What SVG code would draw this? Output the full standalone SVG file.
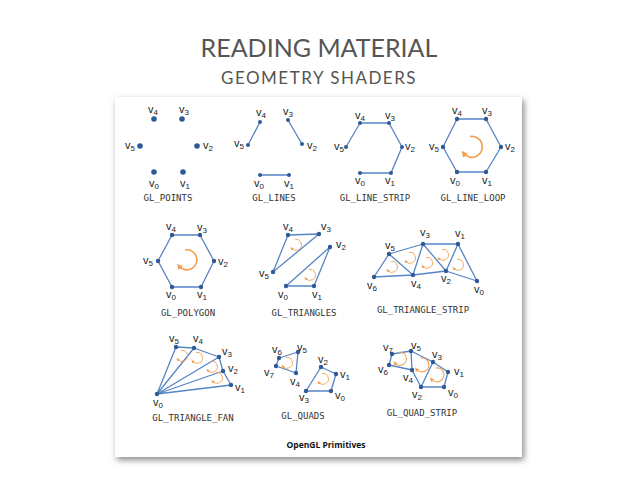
<svg xmlns="http://www.w3.org/2000/svg" xmlns:xlink="http://www.w3.org/1999/xlink" width="638" height="479" viewBox="0 0 638 479">
<style>
.e{stroke:#5585c5;stroke-width:1.3;fill:none;stroke-linejoin:round}
.p{fill:#2f5a96}
.l{font-family:"Liberation Sans",Arial,sans-serif;font-size:11px;fill:#222;text-anchor:middle}
.s{font-size:8px}
.c{font-family:"DejaVu Sans Mono",monospace;font-size:9px;fill:#333;text-anchor:middle}
.a{stroke:#f0a050;stroke-width:1.6;fill:none}
</style>
<defs>
<marker id="ah" markerWidth="6" markerHeight="6" refX="3" refY="3" orient="auto" markerUnits="userSpaceOnUse"><path d="M0,0 L6,3 L0,6 Z" fill="#f0a050"/></marker>
<g id="arc"><path class="a" d="M -2,-10 A 10 10 0 1 1 -8,6" marker-end="url(#ah)"/></g>
<filter id="sh" x="-10%" y="-10%" width="120%" height="125%"><feGaussianBlur stdDeviation="3"/></filter>
</defs>
<rect width="638" height="479" fill="#fff"/>
<text x="319" y="57" font-family="Lato,'Open Sans',sans-serif" font-size="25" fill="#555" text-anchor="middle">READING MATERIAL</text>
<text x="319" y="84" font-family="Lato,'Open Sans',sans-serif" font-size="17" fill="#555" text-anchor="middle" letter-spacing="1.5">GEOMETRY SHADERS</text>
<rect x="117" y="100" width="407" height="360" fill="#888" filter="url(#sh)"/>
<rect x="115" y="97" width="407" height="360" fill="#fff"/>

<g id="points">
<circle class="p" cx="154" cy="119" r="2.8"/><circle class="p" cx="182" cy="119" r="2.8"/><circle class="p" cx="140" cy="146" r="2.8"/><circle class="p" cx="197" cy="146" r="2.8"/><circle class="p" cx="154" cy="172" r="2.8"/><circle class="p" cx="183" cy="172" r="2.8"/>
<text class="l" x="153" y="113">v<tspan class="s" dy="2">4</tspan></text>
<text class="l" x="184" y="113">v<tspan class="s" dy="2">3</tspan></text>
<text class="l" x="130" y="149">v<tspan class="s" dy="2">5</tspan></text>
<text class="l" x="208" y="149">v<tspan class="s" dy="2">2</tspan></text>
<text class="l" x="154" y="187">v<tspan class="s" dy="2">0</tspan></text>
<text class="l" x="185" y="187">v<tspan class="s" dy="2">1</tspan></text>
<text class="c" x="168" y="201">GL_POINTS</text>
</g>

<g id="lines">
<path class="e" d="M260,122 L248,145 M288,120 L302,144 M260,175 L289,175"/>
<circle class="p" cx="260" cy="122" r="2"/><circle class="p" cx="248" cy="145" r="2"/><circle class="p" cx="288" cy="120" r="2"/><circle class="p" cx="302" cy="144" r="2"/><circle class="p" cx="260" cy="175" r="2"/><circle class="p" cx="289" cy="175" r="2"/>
<text class="l" x="261" y="116">v<tspan class="s" dy="2">4</tspan></text>
<text class="l" x="288" y="115">v<tspan class="s" dy="2">3</tspan></text>
<text class="l" x="239" y="147">v<tspan class="s" dy="2">5</tspan></text>
<text class="l" x="312" y="149">v<tspan class="s" dy="2">2</tspan></text>
<text class="l" x="259" y="187">v<tspan class="s" dy="2">0</tspan></text>
<text class="l" x="289" y="187">v<tspan class="s" dy="2">1</tspan></text>
<text class="c" x="274" y="201">GL_LINES</text>
</g>

<g id="linestrip">
<path class="e" d="M346,147 L360,123 L389,123 L402,147 L391,173 L360,173"/>
<circle class="p" cx="346" cy="147" r="2"/><circle class="p" cx="360" cy="123" r="2"/><circle class="p" cx="389" cy="123" r="2"/><circle class="p" cx="402" cy="147" r="2"/><circle class="p" cx="391" cy="173" r="2"/><circle class="p" cx="360" cy="173" r="2"/>
<text class="l" x="360" y="119">v<tspan class="s" dy="2">4</tspan></text>
<text class="l" x="390" y="119">v<tspan class="s" dy="2">3</tspan></text>
<text class="l" x="339" y="150">v<tspan class="s" dy="2">5</tspan></text>
<text class="l" x="410" y="150">v<tspan class="s" dy="2">2</tspan></text>
<text class="l" x="360" y="184">v<tspan class="s" dy="2">0</tspan></text>
<text class="l" x="390" y="184">v<tspan class="s" dy="2">1</tspan></text>
<text class="c" x="375" y="201">GL_LINE_STRIP</text>
</g>

<g id="lineloop">
<path class="e" d="M443,147 L457,119 L486,119 L501,147 L486,172 L457,172 Z"/>
<circle class="p" cx="443" cy="147" r="2.2"/><circle class="p" cx="457" cy="119" r="2.2"/><circle class="p" cx="486" cy="119" r="2.2"/><circle class="p" cx="501" cy="147" r="2.2"/><circle class="p" cx="486" cy="172" r="2.2"/><circle class="p" cx="457" cy="172" r="2.2"/>
<use href="#arc" transform="translate(472,147) scale(1.05)"/>
<text class="l" x="457" y="114">v<tspan class="s" dy="2">4</tspan></text>
<text class="l" x="487" y="114">v<tspan class="s" dy="2">3</tspan></text>
<text class="l" x="434" y="150">v<tspan class="s" dy="2">5</tspan></text>
<text class="l" x="510" y="150">v<tspan class="s" dy="2">2</tspan></text>
<text class="l" x="455" y="184">v<tspan class="s" dy="2">0</tspan></text>
<text class="l" x="487" y="184">v<tspan class="s" dy="2">1</tspan></text>
<text class="c" x="473" y="201">GL_LINE_LOOP</text>
</g>

<g id="polygon">
<path class="e" d="M158,261 L172,235 L200,235 L214,261 L201,287 L172,287 Z"/>
<circle class="p" cx="158" cy="261" r="2.2"/><circle class="p" cx="172" cy="235" r="2.2"/><circle class="p" cx="200" cy="235" r="2.2"/><circle class="p" cx="214" cy="261" r="2.2"/><circle class="p" cx="201" cy="287" r="2.2"/><circle class="p" cx="172" cy="287" r="2.2"/>
<use href="#arc" transform="translate(187,260) scale(1)"/>
<text class="l" x="171" y="230">v<tspan class="s" dy="2">4</tspan></text>
<text class="l" x="202" y="231">v<tspan class="s" dy="2">3</tspan></text>
<text class="l" x="148" y="264">v<tspan class="s" dy="2">5</tspan></text>
<text class="l" x="223" y="265">v<tspan class="s" dy="2">2</tspan></text>
<text class="l" x="171" y="298">v<tspan class="s" dy="2">0</tspan></text>
<text class="l" x="202" y="298">v<tspan class="s" dy="2">1</tspan></text>
<text class="c" x="188" y="316">GL_POLYGON</text>
</g>

<g id="triangles">
<path class="e" d="M288,235 L319,234 L273,272 Z M330,247 L314,286 L286,286 Z"/>
<circle class="p" cx="288" cy="235" r="2.2"/><circle class="p" cx="319" cy="234" r="2.2"/><circle class="p" cx="273" cy="272" r="2.2"/><circle class="p" cx="330" cy="247" r="2.2"/><circle class="p" cx="314" cy="286" r="2.2"/><circle class="p" cx="286" cy="286" r="2.2"/>
<use href="#arc" transform="translate(296,245) scale(0.55)"/>
<use href="#arc" transform="translate(310,275) scale(0.55)"/>
<text class="l" x="288" y="230">v<tspan class="s" dy="2">4</tspan></text>
<text class="l" x="326" y="230">v<tspan class="s" dy="2">3</tspan></text>
<text class="l" x="341" y="248">v<tspan class="s" dy="2">2</tspan></text>
<text class="l" x="264" y="277">v<tspan class="s" dy="2">5</tspan></text>
<text class="l" x="283" y="298">v<tspan class="s" dy="2">0</tspan></text>
<text class="l" x="317" y="298">v<tspan class="s" dy="2">1</tspan></text>
<text class="c" x="304" y="316">GL_TRIANGLES</text>
</g>

<g id="tristrip">
<path class="e" d="M374,277 L389,254 L423,244 L458,244 L477,281 L446,271 L413,275 Z M389,254 L413,275 L423,244 L446,271 L458,244"/>
<circle class="p" cx="374" cy="277" r="2.2"/><circle class="p" cx="389" cy="254" r="2.2"/><circle class="p" cx="413" cy="275" r="2.2"/><circle class="p" cx="423" cy="244" r="2.2"/><circle class="p" cx="446" cy="271" r="2.2"/><circle class="p" cx="458" cy="244" r="2.2"/><circle class="p" cx="477" cy="281" r="2.2"/>
<use href="#arc" transform="translate(392,267) scale(0.55)"/>
<use href="#arc" transform="translate(410,258) scale(0.55)"/>
<use href="#arc" transform="translate(427,263) scale(0.55)"/>
<use href="#arc" transform="translate(443,255) scale(0.55)"/>
<use href="#arc" transform="translate(458,265) scale(0.55)"/>
<text class="l" x="390" y="249">v<tspan class="s" dy="2">5</tspan></text>
<text class="l" x="425" y="236">v<tspan class="s" dy="2">3</tspan></text>
<text class="l" x="460" y="237">v<tspan class="s" dy="2">1</tspan></text>
<text class="l" x="372" y="289">v<tspan class="s" dy="2">6</tspan></text>
<text class="l" x="416" y="287">v<tspan class="s" dy="2">4</tspan></text>
<text class="l" x="446" y="282">v<tspan class="s" dy="2">2</tspan></text>
<text class="l" x="479" y="293">v<tspan class="s" dy="2">0</tspan></text>
<text class="c" x="423" y="313">GL_TRIANGLE_STRIP</text>
</g>

<g id="trifan">
<path class="e" d="M157,394 L231,385 L223,371 L219,357 L194,348 L176,347 Z M157,394 L223,371 M157,394 L219,357 M157,394 L194,348"/>
<circle class="p" cx="157" cy="394" r="2.2"/><circle class="p" cx="231" cy="385" r="2.2"/><circle class="p" cx="223" cy="371" r="2.2"/><circle class="p" cx="219" cy="357" r="2.2"/><circle class="p" cx="194" cy="348" r="2.2"/><circle class="p" cx="176" cy="347" r="2.2"/>
<use href="#arc" transform="translate(182,356) scale(0.55)"/>
<use href="#arc" transform="translate(197,358) scale(0.55)"/>
<use href="#arc" transform="translate(212,367) scale(0.55)"/>
<use href="#arc" transform="translate(217,378) scale(0.55)"/>
<text class="l" x="174" y="342">v<tspan class="s" dy="2">5</tspan></text>
<text class="l" x="198" y="342">v<tspan class="s" dy="2">4</tspan></text>
<text class="l" x="227" y="355">v<tspan class="s" dy="2">3</tspan></text>
<text class="l" x="233" y="372">v<tspan class="s" dy="2">2</tspan></text>
<text class="l" x="240" y="391">v<tspan class="s" dy="2">1</tspan></text>
<text class="l" x="158" y="406">v<tspan class="s" dy="2">0</tspan></text>
<text class="c" x="193" y="421">GL_TRIANGLE_FAN</text>
</g>

<g id="quads">
<path class="e" d="M279,358 L298,352 L296,373 L276,366 Z M321,367 L336,374 L331,391 L306,391 Z"/>
<circle class="p" cx="279" cy="358" r="2.2"/><circle class="p" cx="298" cy="352" r="2.2"/><circle class="p" cx="296" cy="373" r="2.2"/><circle class="p" cx="276" cy="366" r="2.2"/><circle class="p" cx="321" cy="367" r="2.2"/><circle class="p" cx="336" cy="374" r="2.2"/><circle class="p" cx="331" cy="391" r="2.2"/><circle class="p" cx="306" cy="391" r="2.2"/>
<use href="#arc" transform="translate(287,363) scale(0.55)"/>
<use href="#arc" transform="translate(323,379) scale(0.55)"/>
<text class="l" x="277" y="353">v<tspan class="s" dy="2">6</tspan></text>
<text class="l" x="302" y="351">v<tspan class="s" dy="2">5</tspan></text>
<text class="l" x="269" y="376">v<tspan class="s" dy="2">7</tspan></text>
<text class="l" x="295" y="385">v<tspan class="s" dy="2">4</tspan></text>
<text class="l" x="323" y="363">v<tspan class="s" dy="2">2</tspan></text>
<text class="l" x="345" y="378">v<tspan class="s" dy="2">1</tspan></text>
<text class="l" x="304" y="401">v<tspan class="s" dy="2">3</tspan></text>
<text class="l" x="340" y="399">v<tspan class="s" dy="2">0</tspan></text>
<text class="c" x="303" y="419">GL_QUADS</text>
</g>

<g id="quadstrip">
<path class="e" d="M392,354 L411,351 L433,362 L448,372 L444,387 L421,387 L412,370 L389,365 Z M411,351 L412,370 M433,362 L421,387"/>
<circle class="p" cx="392" cy="354" r="2.2"/><circle class="p" cx="411" cy="351" r="2.2"/><circle class="p" cx="433" cy="362" r="2.2"/><circle class="p" cx="448" cy="372" r="2.2"/><circle class="p" cx="444" cy="387" r="2.2"/><circle class="p" cx="421" cy="387" r="2.2"/><circle class="p" cx="412" cy="370" r="2.2"/><circle class="p" cx="389" cy="365" r="2.2"/>
<use href="#arc" transform="translate(400,359) scale(0.65)"/>
<use href="#arc" transform="translate(422,365) scale(0.7)"/>
<use href="#arc" transform="translate(437,375) scale(0.7)"/>
<text class="l" x="388" y="351">v<tspan class="s" dy="2">7</tspan></text>
<text class="l" x="416" y="349">v<tspan class="s" dy="2">5</tspan></text>
<text class="l" x="437" y="358">v<tspan class="s" dy="2">3</tspan></text>
<text class="l" x="459" y="375">v<tspan class="s" dy="2">1</tspan></text>
<text class="l" x="383" y="373">v<tspan class="s" dy="2">6</tspan></text>
<text class="l" x="408" y="381">v<tspan class="s" dy="2">4</tspan></text>
<text class="l" x="417" y="398">v<tspan class="s" dy="2">2</tspan></text>
<text class="l" x="453" y="396">v<tspan class="s" dy="2">0</tspan></text>
<text class="c" x="422" y="416">GL_QUAD_STRIP</text>
</g>

<text x="326" y="448" font-family="'Open Sans','Liberation Sans',sans-serif" font-size="8.5" font-weight="bold" fill="#111" text-anchor="middle">OpenGL Primitives</text>
</svg>
